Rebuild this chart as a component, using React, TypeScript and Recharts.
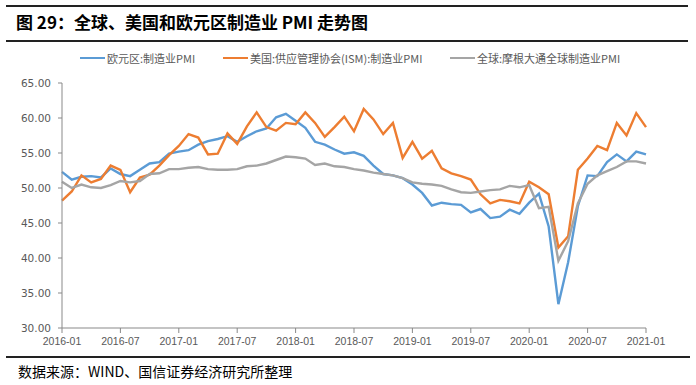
import { LineChart, Line, XAxis, YAxis } from 'recharts';

// 月度制造业PMI，2016-01 至 2021-01
const euroPmi = [
  52.3, 51.2, 51.6, 51.7, 51.5, 52.8, 52.0, 51.7, 52.6, 53.5, 53.7, 54.9,
  55.2, 55.4, 56.2, 56.7, 57.0, 57.4, 56.6, 57.4, 58.1, 58.5, 60.1, 60.6,
  59.6, 58.6, 56.6, 56.2, 55.5, 54.9, 55.1, 54.6, 53.2, 52.0, 51.8, 51.4,
  50.5, 49.3, 47.5, 47.9, 47.7, 47.6, 46.5, 47.0, 45.7, 45.9, 46.9, 46.3,
  47.9, 49.2, 44.5, 33.4, 39.4, 47.4, 51.8, 51.7, 53.7, 54.8, 53.8, 55.2,
  54.8,
];

const usIsmPmi = [
  48.2, 49.5, 51.8, 50.8, 51.3, 53.2, 52.6, 49.4, 51.5, 51.9, 53.2, 54.7,
  56.0, 57.7, 57.2, 54.8, 54.9, 57.8, 56.3, 58.8, 60.8, 58.7, 58.2, 59.3,
  59.1, 60.8, 59.3, 57.3, 58.7, 60.2, 58.1, 61.3, 59.8, 57.7, 59.3, 54.3,
  56.6, 54.2, 55.3, 52.8, 52.1, 51.7, 51.2, 49.1, 47.8, 48.3, 48.1, 47.8,
  50.9, 50.1, 49.1, 41.5, 43.1, 52.6, 54.2, 56.0, 55.4, 59.3, 57.5, 60.7,
  58.7,
];

const globalPmi = [
  50.9, 50.0, 50.5, 50.1, 50.0, 50.4, 51.0, 50.8, 51.0, 52.0, 52.1, 52.7,
  52.7, 52.9, 53.0, 52.7, 52.6, 52.6, 52.7, 53.1, 53.2, 53.5, 54.0, 54.5,
  54.4, 54.2, 53.3, 53.5, 53.1, 53.0, 52.7, 52.5, 52.2, 52.0, 51.8, 51.4,
  50.8, 50.6, 50.5, 50.3, 49.8, 49.4, 49.3, 49.5, 49.7, 49.8, 50.3, 50.1,
  50.4, 47.1, 47.3, 39.6, 42.4, 47.8, 50.6, 51.8, 52.4, 53.0, 53.8, 53.8,
  53.5,
];

const yTicks = [30, 35, 40, 45, 50, 55, 60, 65];

const series = [
  { key: 'euro', name: '欧元区:制造业PMI', color: '#5B9BD5', values: euroPmi },
  { key: 'us', name: '美国:供应管理协会(ISM):制造业PMI', color: '#ED7D31', values: usIsmPmi },
  { key: 'global', name: '全球:摩根大通全球制造业PMI', color: '#A5A5A5', values: globalPmi },
];

const monthLabel = (i: number) => {
  const y = 2016 + Math.floor(i / 12);
  const m = (i % 12) + 1;
  return `${y}-${m < 10 ? '0' + m : m}`;
};

const data = euroPmi.map((_, i) => {
  const row: Record<string, string | number> = { month: monthLabel(i) };
  series.forEach((s) => {
    row[s.key] = s.values[i];
  });
  return row;
});

const legendX = [80, 223, 450];

const cjk = '"Noto Sans CJK SC", "Noto Sans", sans-serif';

export default function App() {
  return (
    <div
      style={{
        position: 'absolute',
        left: 0,
        top: 0,
        width: 696,
        height: 385,
        background: '#fff',
        overflow: 'hidden',
      }}
    >
      {/* 标题及上下分隔线 */}
      <div style={{ position: 'absolute', left: 6, top: 5, width: 682, height: 1.5, background: '#222' }} />
      <div
        style={{
          position: 'absolute',
          left: 16,
          top: 11,
          fontFamily: cjk,
          fontWeight: 700,
          fontSize: 17,
          lineHeight: '22px',
          color: '#000',
          whiteSpace: 'nowrap',
        }}
      >
        图 29：全球、美国和欧元区制造业 PMI 走势图
      </div>
      <div style={{ position: 'absolute', left: 6, top: 40, width: 682, height: 1.5, background: '#222' }} />

      {/* 图例 */}
      {series.map((s, i) => (
        <div
          key={s.key}
          style={{
            position: 'absolute',
            left: legendX[i],
            top: 50,
            height: 16,
            display: 'flex',
            alignItems: 'center',
            whiteSpace: 'nowrap',
          }}
        >
          <div style={{ width: 25, height: 2.5, background: s.color, marginRight: 2 }} />
          <span style={{ fontFamily: cjk, fontSize: 11, color: '#595959' }}>{s.name}</span>
        </div>
      ))}

      <LineChart
        width={696}
        height={385}
        data={data}
        margin={{ top: 83, right: 50, left: 0, bottom: 0 }}
      >
        <XAxis
          dataKey="month"
          interval={5}
          height={57}
          stroke="#898989"
          tickSize={5}
          tickMargin={5}
          tick={{ fill: '#595959', fontSize: 10.5, fontFamily: '"Liberation Sans", Arial, sans-serif' }}
        />
        <YAxis
          domain={[30, 65]}
          ticks={yTicks}
          width={62}
          stroke="#898989"
          tickSize={4}
          tickMargin={7}
          tickFormatter={(v: number) => v.toFixed(2)}
          tick={{ fill: '#595959', fontSize: 10.5, fontFamily: '"DejaVu Sans", sans-serif' }}
        />
        {series.map((s) => (
          <Line
            key={s.key}
            type="linear"
            dataKey={s.key}
            name={s.name}
            stroke={s.color}
            strokeWidth={2.4}
            dot={false}
            isAnimationActive={false}
          />
        ))}
      </LineChart>

      {/* 数据来源 */}
      <div style={{ position: 'absolute', left: 6, top: 356, width: 684, height: 1.5, background: '#222' }} />
      <div
        style={{
          position: 'absolute',
          left: 18,
          top: 361,
          fontFamily: cjk,
          fontSize: 14,
          lineHeight: '20px',
          color: '#000',
          whiteSpace: 'nowrap',
        }}
      >
        数据来源：WIND、国信证券经济研究所整理
      </div>
    </div>
  );
}
